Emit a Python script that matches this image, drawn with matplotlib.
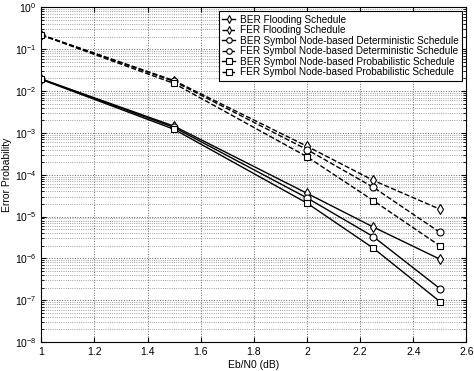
import numpy as np
import matplotlib
matplotlib.use("Agg")
import matplotlib.pyplot as plt
from matplotlib.ticker import LogLocator, NullFormatter

plt.rcParams['font.family'] = ['Liberation Sans', 'DejaVu Sans']
plt.rcParams['mathtext.fontset'] = 'custom'
plt.rcParams['mathtext.rm'] = 'Liberation Sans'

# Eb/N0 points (dB)
ebn0 = [1.0, 1.5, 2.0, 2.25, 2.5]

# flooding schedule
ber_flood = [0.0195, 1.45e-3, 3.6e-5, 5.6e-6, 9.6e-7]
fer_flood = [0.222, 0.0178, 4.8e-4, 7.3e-5, 1.5e-5]
# symbol node-based deterministic
ber_det = [0.0193, 1.35e-3, 2.8e-5, 3.3e-6, 1.9e-7]
fer_det = [0.220, 0.0170, 4.0e-4, 5.0e-5, 4.2e-6]
# symbol node-based probabilistic
ber_prob = [0.0190, 1.22e-3, 2.1e-5, 1.75e-6, 9.3e-8]
fer_prob = [0.218, 0.0152, 2.7e-4, 2.4e-5, 2.0e-6]

labels = ["BER Flooding Schedule",
          "FER Flooding Schedule",
          "BER Symbol Node-based Deterministic Schedule",
          "FER Symbol Node-based Deterministic Schedule",
          "BER Symbol Node-based Probabilistic Schedule",
          "FER Symbol Node-based Probabilistic Schedule"]

fig = plt.figure(figsize=(4.74, 3.71), dpi=100)
ax = fig.add_axes([0.087, 0.078, 0.897, 0.902])

series = [(ber_flood, 'd', '-'), (fer_flood, 'd', '--'),
          (ber_det, 'o', '-'), (fer_det, 'o', '--'),
          (ber_prob, 's', '-'), (fer_prob, 's', '--')]
for (vals, mk, ls), lab in zip(series, labels):
    ax.semilogy(ebn0, vals, color='k', linestyle=ls, marker=mk, markersize=5,
                markerfacecolor='white', markeredgewidth=0.8, linewidth=1.0,
                label=lab)

ax.set_xlim(1, 2.6)
ax.set_ylim(1e-8, 1)
ax.set_xticks(np.arange(1, 2.61, 0.2))
ax.set_xticklabels(['1', '1.2', '1.4', '1.6', '1.8', '2', '2.2', '2.4', '2.6'])
ax.yaxis.set_major_locator(LogLocator(base=10, numticks=20))
ax.yaxis.set_minor_locator(LogLocator(base=10, subs=np.arange(2, 10), numticks=20))
ax.yaxis.set_minor_formatter(NullFormatter())

ax.grid(True, which='major', linestyle=':', color='0.4', linewidth=0.7)
ax.grid(True, which='minor', axis='y', linestyle=':', color='0.5', linewidth=0.6)
ax.tick_params(which='both', direction='in', top=True, right=True, labelsize=7.5)

ax.set_xlabel("Eb/N0 (dB)", fontsize=7.5, labelpad=2)
ax.set_ylabel("Error Probability", fontsize=7.5, labelpad=2)

leg = ax.legend(loc='upper right', fontsize=7.2, handlelength=1.3,
                labelspacing=0.05, borderpad=0.35, handletextpad=0.5,
                fancybox=False, framealpha=1, edgecolor='k',
                borderaxespad=0.4, markerscale=0.8)
leg.get_frame().set_linewidth(0.8)

fig.savefig("out.png", dpi=100)
